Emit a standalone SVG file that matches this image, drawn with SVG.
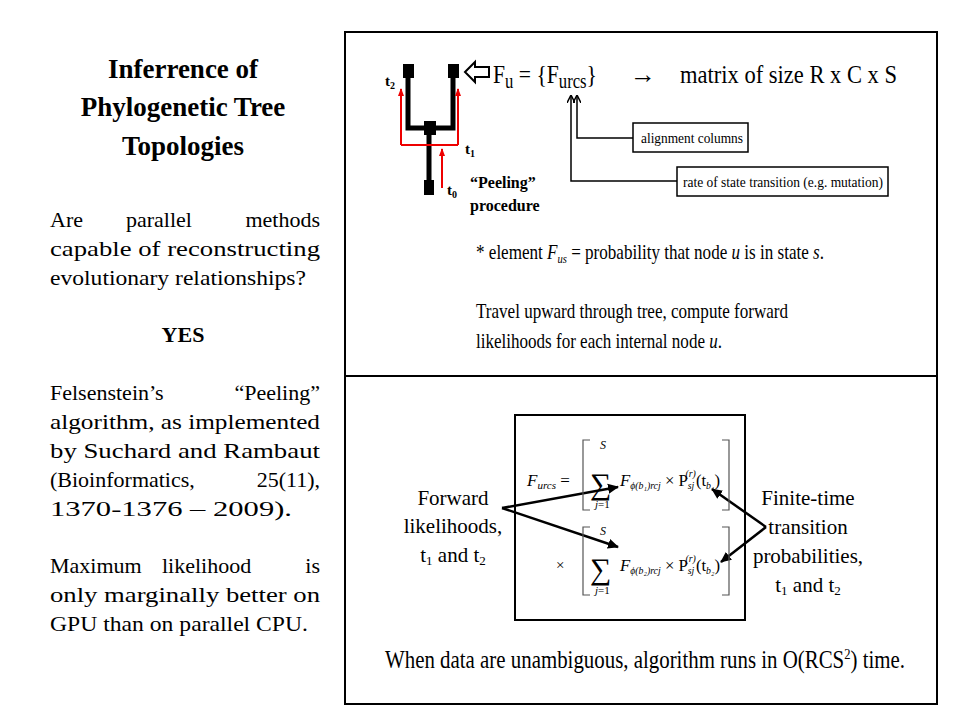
<svg xmlns="http://www.w3.org/2000/svg" width="960" height="720" viewBox="0 0 960 720">
<defs>
<marker id="ar" markerWidth="8" markerHeight="8" refX="7" refY="4" orient="auto" markerUnits="userSpaceOnUse"><path d="M0,0 L8,4 L0,8" fill="none" stroke="#000" stroke-width="1.5"/></marker>
<marker id="rr" markerWidth="8" markerHeight="8" refX="7" refY="4" orient="auto" markerUnits="userSpaceOnUse"><path d="M0,1 L8,4 L0,7z" fill="#e00"/></marker>
<marker id="ab" markerWidth="12" markerHeight="12" refX="10" refY="6" orient="auto" markerUnits="userSpaceOnUse"><path d="M0,1 L11,6 L0,11z" fill="#000"/></marker>
</defs>
<style>
text{font-family:"Liberation Serif","Times New Roman",serif;fill:#000}
.t{font-size:22px}
.b{font-weight:bold}
.box{fill:none;stroke:#000;stroke-width:2}
.ln{fill:none;stroke:#000;stroke-width:1.5}
.m{font-style:italic;font-size:17px}
</style>
<rect width="960" height="720" fill="#fff"/>
<g id="left">
<text class="b" font-size="27" text-anchor="middle"><tspan x="183" y="78">Inferrence of</tspan><tspan x="183" y="116">Phylogenetic Tree</tspan><tspan x="183" y="155">Topologies</tspan></text>
<text class="t" y="227"><tspan x="50">Are</tspan><tspan x="126">parallel</tspan><tspan x="320" text-anchor="end">methods</tspan></text>
<text class="t" x="50" y="256" textLength="270" lengthAdjust="spacingAndGlyphs">capable of reconstructing</text>
<text class="t" x="50" y="285" textLength="256" lengthAdjust="spacingAndGlyphs">evolutionary relationships?</text>
<text class="t b" x="183" y="342" text-anchor="middle">YES</text>
<text class="t" y="400"><tspan x="50">Felsenstein’s</tspan><tspan x="320" text-anchor="end">“Peeling”</tspan></text>
<text class="t" x="50" y="429" textLength="270" lengthAdjust="spacingAndGlyphs">algorithm, as implemented</text>
<text class="t" x="50" y="458" textLength="270" lengthAdjust="spacingAndGlyphs">by Suchard and Rambaut</text>
<text class="t" y="487"><tspan x="50">(Bioinformatics,</tspan><tspan x="320" text-anchor="end">25(11),</tspan></text>
<text class="t" x="50" y="516" textLength="242" lengthAdjust="spacingAndGlyphs">1370-1376 – 2009).</text>
<text class="t" y="573"><tspan x="50">Maximum</tspan><tspan x="162">likelihood</tspan><tspan x="320" text-anchor="end">is</tspan></text>
<text class="t" x="50" y="602" textLength="270" lengthAdjust="spacingAndGlyphs">only marginally better on</text>
<text class="t" x="50" y="631" textLength="258" lengthAdjust="spacingAndGlyphs">GPU than on parallel CPU.</text>
</g>
<g id="panels">
<rect class="box" x="345" y="32" width="592" height="344"/>
<rect class="box" x="345" y="376" width="592" height="328"/>
</g>
<g id="tree">
<path d="M408,76 V128 H453 V76 M429,128 V182" fill="none" stroke="#000" stroke-width="5"/>
<rect x="403" y="64" width="11" height="14"/><rect x="448" y="64" width="11" height="14"/>
<rect x="424" y="121" width="12" height="14"/><rect x="424" y="180" width="10" height="15"/>
<path d="M401,145 H458" fill="none" stroke="#e00" stroke-width="2"/>
<path d="M401,145 V89" fill="none" stroke="#e00" stroke-width="2" marker-end="url(#rr)"/>
<path d="M458,145 V89" fill="none" stroke="#e00" stroke-width="2" marker-end="url(#rr)"/>
<path d="M442,188 V149" fill="none" stroke="#e00" stroke-width="2" marker-end="url(#rr)"/>
<text font-size="15" font-weight="bold" x="385" y="86">t<tspan font-size="10" dy="3">2</tspan></text>
<text font-size="15" font-weight="bold" x="465" y="154">t<tspan font-size="10" dy="3">1</tspan></text>
<text font-size="15" font-weight="bold" x="447" y="195">t<tspan font-size="10" dy="3">0</tspan></text>
<text font-size="16" font-weight="bold"><tspan x="470" y="188">“Peeling”</tspan><tspan x="470" y="211">procedure</tspan></text>
<path d="M465,72 L475,62 V67 H489 V77 H475 V82z" fill="#fff" stroke="#000" stroke-width="2"/>
</g>
<g id="header">
<text font-size="26" x="493" y="83" textLength="104" lengthAdjust="spacingAndGlyphs">F<tspan font-size="20" dy="5">u</tspan><tspan dy="-5"> = {F</tspan><tspan font-size="20" dy="5">urcs</tspan><tspan dy="-5">}</tspan></text>
<text font-size="26" x="630" y="83">→</text>
<text font-size="26" x="680" y="83" textLength="217" lengthAdjust="spacingAndGlyphs">matrix of size R x C x S</text>
</g>
<g id="labels">
<rect x="633" y="123" width="115" height="29" fill="#fff" stroke="#000" stroke-width="1.5"/>
<text font-size="14" x="641" y="143" textLength="102" lengthAdjust="spacingAndGlyphs">alignment columns</text>
<rect x="677" y="167" width="211" height="29" fill="#fff" stroke="#000" stroke-width="1.5"/>
<text font-size="14" x="683" y="187" textLength="200" lengthAdjust="spacingAndGlyphs">rate of state transition (e.g. mutation)</text>
</g>
<g id="connectors">
<path class="ln" d="M633,138 H577 V96" marker-end="url(#ar)"/>
<path class="ln" d="M677,181 H571 V96" marker-end="url(#ar)"/>
<path d="M502,508 L618,487" fill="none" stroke="#000" stroke-width="2.5" marker-end="url(#ab)"/>
<path d="M502,508 L618,547" fill="none" stroke="#000" stroke-width="2.5" marker-end="url(#ab)"/>
<path d="M766,527 L712,489" fill="none" stroke="#000" stroke-width="2.5" marker-end="url(#ab)"/>
<path d="M766,527 L721,562" fill="none" stroke="#000" stroke-width="2.5" marker-end="url(#ab)"/>
</g>
<g id="text-top">
<text font-size="21" x="476" y="259" textLength="348" lengthAdjust="spacingAndGlyphs">* element <tspan font-style="italic">F</tspan><tspan font-style="italic" font-size="13" dy="4">us</tspan><tspan dy="-4"> = probability that node </tspan><tspan font-style="italic">u</tspan> is in state <tspan font-style="italic">s</tspan>.</text>
<text font-size="21" x="476" y="318" textLength="312" lengthAdjust="spacingAndGlyphs">Travel upward through tree, compute forward</text>
<text font-size="21" x="476" y="348" textLength="246" lengthAdjust="spacingAndGlyphs">likelihoods for each internal node <tspan font-style="italic">u</tspan>.</text>
</g>
<g id="formula">
<rect class="box" x="515" y="415" width="230" height="205"/>
<text class="m" x="527" y="486">F<tspan font-size="11" dy="3">urcs</tspan><tspan font-style="normal" dy="-3"> =</tspan></text>
<path d="M590,440 H583 V510 H590 M722,440 H729 V510 H722 M590,527 H583 V595 H590 M722,527 H729 V595 H722" fill="none" stroke="#555" stroke-width="1.2"/>
<text font-size="12" font-style="italic" x="600" y="449">S</text>
<text font-size="30" x="590" y="494">∑</text>
<text font-size="11" x="595" y="508"><tspan font-style="italic">j</tspan>=1</text>
<text class="m" x="620" y="486" textLength="100" lengthAdjust="spacingAndGlyphs">F<tspan font-size="10" dy="3">ϕ(b₁)rcj</tspan><tspan font-style="normal" dy="-3"> × P</tspan><tspan font-size="10" dy="3">sj</tspan><tspan font-size="10" dx="-9" dy="-12">(r)</tspan><tspan font-style="normal" dy="9">(t</tspan><tspan font-size="10" dy="3">b₁</tspan><tspan font-style="normal" dy="-3">)</tspan></text>
<text font-size="15" x="556" y="570">×</text>
<text font-size="12" font-style="italic" x="600" y="535">S</text>
<text font-size="30" x="590" y="579">∑</text>
<text font-size="11" x="595" y="594"><tspan font-style="italic">j</tspan>=1</text>
<text class="m" x="620" y="571" textLength="100" lengthAdjust="spacingAndGlyphs">F<tspan font-size="10" dy="3">ϕ(b₂)rcj</tspan><tspan font-style="normal" dy="-3"> × P</tspan><tspan font-size="10" dy="3">sj</tspan><tspan font-size="10" dx="-9" dy="-12">(r)</tspan><tspan font-style="normal" dy="9">(t</tspan><tspan font-size="10" dy="3">b₂</tspan><tspan font-style="normal" dy="-3">)</tspan></text>
</g>
<g id="side-labels">
<text font-size="21" text-anchor="middle"><tspan x="453" y="505">Forward</tspan><tspan x="453" y="533">likelihoods,</tspan><tspan x="453" y="562">t<tspan font-size="13" dy="3">1</tspan><tspan dy="-3"> and t</tspan><tspan font-size="13" dy="3">2</tspan></tspan></text>
<text font-size="21" text-anchor="middle"><tspan x="808" y="505">Finite-time</tspan><tspan x="808" y="534">transition</tspan><tspan x="808" y="563">probabilities,</tspan><tspan x="808" y="592">t<tspan font-size="13" dy="3">1</tspan><tspan dy="-3"> and t</tspan><tspan font-size="13" dy="3">2</tspan></tspan></text>
<text font-size="25" x="385" y="668" textLength="520" lengthAdjust="spacingAndGlyphs">When data are unambiguous, algorithm runs in O(RCS<tspan font-size="15" dy="-9">2</tspan><tspan dy="9">) time.</tspan></text>
</g>
</svg>
